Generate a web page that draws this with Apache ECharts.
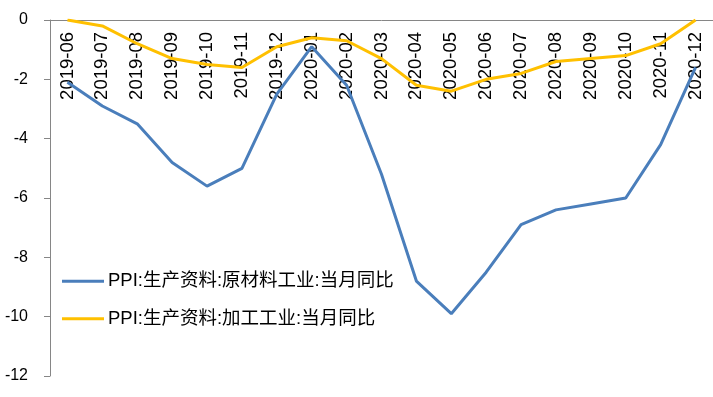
<!DOCTYPE html>
<html>
<head>
<meta charset="utf-8">
<script src="https://cdn.jsdelivr.net/npm/echarts@6/dist/echarts.min.js"></script>
<style>
  html, body { margin: 0; padding: 0; background: #fff; }
  #chart { width: 713px; height: 397px; }
</style>
</head>
<body>
<div id="chart"></div>
<script>
const months = ['2019-06', '2019-07', '2019-08', '2019-09', '2019-10', '2019-11', '2019-12',
  '2020-01', '2020-02', '2020-03', '2020-04', '2020-05', '2020-06', '2020-07', '2020-08',
  '2020-09', '2020-10', '2020-11', '2020-12']

// PPI:生产资料:原材料工业:当月同比
const rawMaterial = [-2.1, -2.9, -3.5, -4.8, -5.6, -5.0, -2.5, -0.9, -2.2, -5.2, -8.8, -9.9,
  -8.5, -6.9, -6.4, -6.2, -6.0, -4.2, -1.6]
// PPI:生产资料:加工工业:当月同比
const processing = [0.0, -0.2, -0.8, -1.3, -1.5, -1.6, -0.9, -0.6, -0.7, -1.3, -2.2, -2.4,
  -2.0, -1.8, -1.4, -1.3, -1.2, -0.8, 0.0]

const seriesNames = ['PPI:生产资料:原材料工业:当月同比', 'PPI:生产资料:加工工业:当月同比']
const yTicks = { min: -12, max: 0, interval: 2 }

const axisGray = '#868686'
const font = '"Liberation Sans", "Noto Sans CJK SC", sans-serif'

const chart = echarts.init(document.getElementById('chart'))

chart.setOption({
  animation: false,
  color: ['#4A7EBB', '#FFC000'],
  grid: { left: 50, top: 20, width: 665, bottom: 21 },
  legend: {
    orient: 'vertical',
    left: 57,
    top: 267,
    itemWidth: 42,
    itemHeight: 3,
    itemGap: 19,
    icon: 'rect',
    textStyle: { fontFamily: font, fontSize: 18.5, color: '#000', padding: [0, 0, 0, -1] },
    data: seriesNames
  },
  xAxis: {
    type: 'category',
    position: 'top',
    data: months,
    boundaryGap: true,
    axisLine: { lineStyle: { color: axisGray, width: 1 } },
    axisTick: { inside: true, length: 7, lineStyle: { color: axisGray } },
    axisLabel: {
      inside: true,
      rotate: 90,
      margin: 12,
      interval: 0,
      color: '#000',
      fontFamily: font,
      fontSize: 18.5
    },
    splitLine: { show: false }
  },
  yAxis: {
    type: 'value',
    min: yTicks.min,
    max: yTicks.max,
    interval: yTicks.interval,
    axisLine: { show: true, onZero: false, lineStyle: { color: axisGray } },
    axisTick: { show: true, length: 6, lineStyle: { color: axisGray } },
    axisLabel: { color: '#000', fontFamily: font, fontSize: 16, margin: 22 },
    splitLine: { show: false }
  },
  series: [
    {
      name: seriesNames[0],
      type: 'line',
      data: rawMaterial,
      symbol: 'none',
      lineStyle: { width: 3 }
    },
    {
      name: seriesNames[1],
      type: 'line',
      data: processing,
      symbol: 'none',
      lineStyle: { width: 3 }
    }
  ]
})
</script>
</body>
</html>
